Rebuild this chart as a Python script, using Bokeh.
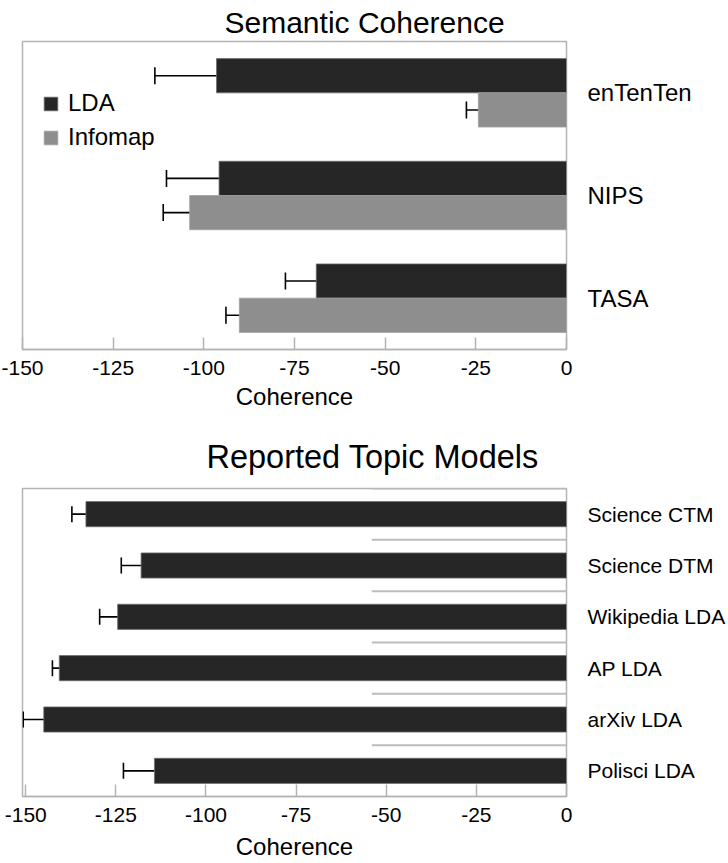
import numpy as np

from bokeh.embed import file_html
from bokeh.layouts import column
from bokeh.models import ColumnDataSource, FactorRange, FixedTicker, Whisker, TeeHead
from bokeh.plotting import figure
from bokeh.resources import INLINE
from bokeh.transform import dodge

FONT = "Liberation Sans"
DARK = "#262626"
GRAY = "#8e8e8e"
FRAME = "#b3b3b3"
ERR = "#000000"

# Semantic Coherence
corpora = ["enTenTen", "NIPS", "TASA"]
lda_mean = [-96.5, -95.8, -69.0]
lda_err = [17.0, 14.5, 8.5]
infomap_mean = [-24.3, -103.9, -90.2]
infomap_err = [3.3, 7.3, 3.7]

# Reported Topic Models
models = ["Science CTM", "Science DTM", "Wikipedia LDA", "AP LDA", "arXiv LDA", "Polisci LDA"]
model_mean = [-133.3, -118.0, -124.5, -140.7, -145.0, -114.3]
model_err = [3.9, 5.5, 5.0, 1.9, 5.7, 8.6]
sep_start = -54

x_ticks = [-150, -125, -100, -75, -50, -25, 0]


def style(p, title_size, title_offset, title_standoff, label_size, axis_standoff):
    p.title.text_font = FONT
    p.title.text_font_size = title_size
    p.title.text_font_style = "normal"
    p.title.text_color = "black"
    p.title.align = "left"
    p.title.offset = title_offset
    p.title.standoff = title_standoff
    p.outline_line_color = FRAME
    p.outline_line_width = 1.5
    p.xgrid.visible = False
    p.ygrid.visible = False

    xa = p.xaxis[0]
    xa.ticker = FixedTicker(ticks=x_ticks)
    xa.major_label_overrides = {t: str(t) for t in x_ticks}
    xa.axis_line_color = FRAME
    xa.axis_line_width = 1.5
    xa.major_tick_line_color = FRAME
    xa.major_tick_line_width = 1.5
    xa.major_tick_in = 12
    xa.major_tick_out = 0
    xa.minor_tick_line_color = None
    xa.major_label_text_font = FONT
    xa.major_label_text_font_size = "21px"
    xa.major_label_text_color = "black"
    xa.major_label_standoff = 11
    xa.axis_label = "Coherence"
    xa.axis_label_text_font = FONT
    xa.axis_label_text_font_size = "24px"
    xa.axis_label_text_font_style = "normal"
    xa.axis_label_text_color = "black"
    xa.axis_label_standoff = axis_standoff

    ya = p.yaxis[0]
    ya.axis_line_color = None
    ya.major_tick_line_color = None
    ya.minor_tick_line_color = None
    ya.major_label_text_font = FONT
    ya.major_label_text_font_size = label_size
    ya.major_label_text_color = "black"
    ya.major_label_standoff = 15


def error_bars(p, source, base, lower, upper, size):
    head = dict(size=size, line_color=ERR, line_width=1.6)
    p.add_layout(Whisker(source=source, base=base, lower=lower, upper=upper,
                         dimension="width", line_color=ERR, line_width=1.6,
                         upper_head=TeeHead(**head), lower_head=TeeHead(**head)))


def semantic_figure():
    p = figure(
        title="Semantic Coherence",
        width=728,
        height=420,
        x_range=(-150, 0),
        y_range=FactorRange(factors=corpora[::-1]),
        y_axis_location="right",
        toolbar_location=None,
        tools="",
        min_border_left=22,
        min_border_right=162,
        min_border_top=41,
        min_border_bottom=71,
        output_backend="svg")

    src = ColumnDataSource(dict(
        cat=corpora,
        lda=lda_mean,
        lda_lo=[m - e for m, e in zip(lda_mean, lda_err)],
        lda_hi=[m + e for m, e in zip(lda_mean, lda_err)],
        info=infomap_mean,
        info_lo=[m - e for m, e in zip(infomap_mean, infomap_err)],
        info_hi=[m + e for m, e in zip(infomap_mean, infomap_err)],
    ))
    up = dodge("cat", 1 / 6, range=p.y_range)
    down = dodge("cat", -1 / 6, range=p.y_range)
    p.hbar(y=up, left="lda", right=0, height=1 / 3, source=src,
           fill_color=DARK, line_color="#6f6f6f", line_width=0.8, legend_label="LDA")
    p.hbar(y=down, left="info", right=0, height=1 / 3, source=src,
           fill_color=GRAY, line_color="#a0a0a0", line_width=0.8, legend_label="Infomap")
    error_bars(p, src, up, "lda_lo", "lda_hi", 17)
    error_bars(p, src, down, "info_lo", "info_hi", 17)

    style(p, "30px", 202, 6, "24px", 5)

    lg = p.legend[0]
    lg.location = (20, 197)
    lg.border_line_color = None
    lg.background_fill_alpha = 0
    lg.padding = 0
    lg.margin = 0
    lg.spacing = 4
    lg.glyph_width = 17
    lg.glyph_height = 17
    lg.label_height = 30
    lg.label_standoff = 9
    lg.label_text_font = FONT
    lg.label_text_font_size = "24px"
    lg.label_text_color = "black"
    return p


def reported_figure():
    p = figure(
        title="Reported Topic Models",
        width=728,
        height=443,
        x_range=(-150.9, 0),
        y_range=FactorRange(factors=models[::-1]),
        y_axis_location="right",
        toolbar_location=None,
        tools="",
        min_border_left=22,
        min_border_right=162,
        min_border_top=68,
        min_border_bottom=67,
        output_backend="svg")

    src = ColumnDataSource(dict(
        cat=models,
        mean=model_mean,
        lo=[m - e for m, e in zip(model_mean, model_err)],
        hi=[m + e for m, e in zip(model_mean, model_err)],
        sep=[sep_start] * len(models),
    ))
    top = dodge("cat", 0.5, range=p.y_range)
    p.segment(x0="sep", x1=0, y0=top, y1=top, source=src,
              line_color="#bdbdbd", line_width=2)
    p.hbar(y="cat", left="mean", right=0, height=0.49, source=src,
           fill_color=DARK, line_color="#6f6f6f", line_width=0.8)
    error_bars(p, src, "cat", "lo", "hi", 16)

    style(p, "32.5px", 184, 28, "21px", 8)
    return p


layout = column(semantic_figure(), reported_figure(), spacing=0)
open("out.html", "w").write(file_html(layout, INLINE))
